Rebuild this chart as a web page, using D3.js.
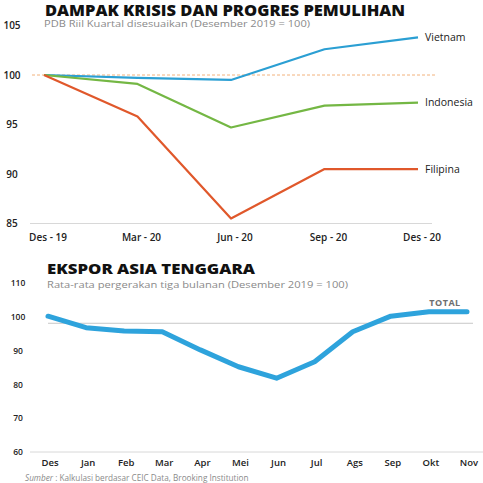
<!DOCTYPE html>
<html lang="id">
<head>
    <meta charset="UTF-8">
    <title>Dampak Krisis dan Ekspor Asia Tenggara</title>
    <script src="https://cdnjs.cloudflare.com/ajax/libs/d3/7.9.0/d3.min.js"></script>
    <style>
        body { margin: 0; background: #fff; overflow: hidden; }
        svg { display: block; font-family: 'Open Sans', 'Noto Sans', sans-serif; }
    </style>
</head>
<body>
    <div id="root"></div>
    <script>
        // Top chart: quarterly real GDP (Des 2019 = 100)
        const quarters = ["Des - 19", "Mar - 20", "Jun - 20", "Sep - 20", "Des - 20"]
        const vietnam = [100, 99.7, 99.5, 102.6, 103.8]
        const indonesia = [100, 99.1, 94.7, 96.9, 97.2]
        const filipina = [100, 95.8, 85.5, 90.5, 90.5]
        const gdpTicks = [85, 90, 95, 100, 105]

        // Bottom chart: three-month moving average exports
        const months = ["Des", "Jan", "Feb", "Mar", "Apr", "Mei", "Jun", "Jul", "Ags", "Sep", "Okt", "Nov"]
        const exportsTotal = [100.3, 96.9, 95.9, 95.7, 90.3, 85.3, 81.9, 86.8, 95.7, 100.3, 101.6, 101.6]
        const exportTicks = [60, 70, 80, 90, 100, 110]
        const exportRef = 98.2

        const W = 483, H = 483

        const svg = d3.select("#root").append("svg")
            .attr("width", W)
            .attr("height", H)

        // ---------- Top chart ----------
        const series = [
            { name: "Vietnam", values: vietnam, color: "#2b9fd3" },
            { name: "Indonesia", values: indonesia, color: "#74b744" },
            { name: "Filipina", values: filipina, color: "#e0582b" }
        ]

        const x1 = d3.scalePoint().domain(quarters).range([44, 418])
        const y1 = d3.scaleLinear().domain([85, 105]).range([223.5, 25.5])

        svg.append("text")
            .attr("x", 45).attr("y", 15.5)
            .attr("textLength", 360).attr("lengthAdjust", "spacingAndGlyphs")
            .style("font-size", "15px").style("font-weight", 800).style("fill", "#111")
            .text("DAMPAK KRISIS DAN PROGRES PEMULIHAN")

        svg.append("text")
            .attr("x", 44).attr("y", 27)
            .attr("textLength", 266).attr("lengthAdjust", "spacingAndGlyphs")
            .style("font-size", "9.5px").style("fill", "#8a8a8a")
            .text("PDB Riil Kuartal disesuaikan (Desember 2019 = 100)")

        // y tick labels
        svg.append("g").selectAll("text")
            .data(gdpTicks)
            .join("text")
            .attr("x", 12)
            .attr("y", d => y1(d))
            .attr("dy", "0.35em")
            .attr("text-anchor", "middle")
            .style("font-size", "10px").style("font-weight", 600).style("fill", "#222")
            .text(d => d)

        // baseline
        svg.append("line")
            .attr("x1", 30).attr("x2", 432)
            .attr("y1", y1(85)).attr("y2", y1(85))
            .style("stroke", "#d8d8d8").style("stroke-width", 1)

        // reference 100 dashed
        svg.append("line")
            .attr("x1", 32).attr("x2", 435)
            .attr("y1", y1(100)).attr("y2", y1(100))
            .style("stroke", "#f2b27c").style("stroke-width", 1)
            .style("stroke-dasharray", "3,2")

        // x labels
        svg.append("g").selectAll("text")
            .data(quarters)
            .join("text")
            .attr("x", d => x1(d) + 4)
            .attr("y", 241)
            .attr("text-anchor", "middle")
            .style("font-size", "10px").style("font-weight", 600).style("fill", "#222")
            .text(d => d)

        const line1 = d3.line()
            .x((d, i) => x1(quarters[i]))
            .y(d => y1(d))

        svg.append("g").selectAll("path")
            .data(series)
            .join("path")
            .attr("d", d => line1(d.values))
            .style("fill", "none")
            .style("stroke", d => d.color)
            .style("stroke-width", 2.2)
            .style("stroke-linejoin", "round")

        svg.append("g").selectAll("text")
            .data(series)
            .join("text")
            .attr("x", 425)
            .attr("y", d => y1(d.values[d.values.length - 1]))
            .attr("dy", "0.35em")
            .style("font-size", "10.5px").style("font-weight", 500).style("fill", "#222")
            .text(d => d.name)

        // ---------- Bottom chart ----------
        const x2 = d3.scalePoint().domain(months).range([48, 467])
        const y2 = d3.scaleLinear().domain([60, 110]).range([452, 283.5])

        svg.append("text")
            .attr("x", 47).attr("y", 274)
            .attr("textLength", 208).attr("lengthAdjust", "spacingAndGlyphs")
            .style("font-size", "14.5px").style("font-weight", 800).style("fill", "#111")
            .text("EKSPOR ASIA TENGGARA")

        svg.append("text")
            .attr("x", 47).attr("y", 288)
            .attr("textLength", 301).attr("lengthAdjust", "spacingAndGlyphs")
            .style("font-size", "9.5px").style("fill", "#8a8a8a")
            .text("Rata-rata pergerakan tiga bulanan (Desember 2019 = 100)")

        svg.append("g").selectAll("text")
            .data(exportTicks)
            .join("text")
            .attr("x", 18)
            .attr("y", d => y2(d))
            .attr("dy", "0.35em")
            .attr("text-anchor", "middle")
            .style("font-size", "8.5px").style("font-weight", 600).style("fill", "#222")
            .text(d => d)

        svg.append("line")
            .attr("x1", 30).attr("x2", W)
            .attr("y1", y2(60)).attr("y2", y2(60))
            .style("stroke", "#d8d8d8").style("stroke-width", 1)

        svg.append("line")
            .attr("x1", 48).attr("x2", 473)
            .attr("y1", y2(exportRef)).attr("y2", y2(exportRef))
            .style("stroke", "#c8c8c8").style("stroke-width", 1)

        svg.append("g").selectAll("text")
            .data(months)
            .join("text")
            .attr("x", d => x2(d) + 2)
            .attr("y", 466)
            .attr("text-anchor", "middle")
            .style("font-size", "9.5px").style("font-weight", 600).style("fill", "#222")
            .text(d => d)

        const line2 = d3.line()
            .x((d, i) => x2(months[i]))
            .y(d => y2(d))

        svg.append("path")
            .attr("d", line2(exportsTotal))
            .style("fill", "none")
            .style("stroke", "#2ea3dc")
            .style("stroke-width", 5)
            .style("stroke-linejoin", "round")
            .style("stroke-linecap", "round")

        svg.append("text")
            .attr("x", 445).attr("y", 305.5)
            .attr("text-anchor", "middle")
            .style("font-size", "9px").style("font-weight", 700).style("fill", "#6e6e6e")
            .style("letter-spacing", "0.5px")
            .text("TOTAL")

        // source
        const src = svg.append("text")
            .attr("x", 25).attr("y", 481)
            .style("font-size", "8.2px").style("fill", "#8a8a8a")
        src.append("tspan").style("font-style", "italic").text("Sumber")
        src.append("tspan").text(" : Kalkulasi berdasar CEIC Data, Brooking Institution")
    </script>
</body>
</html>
